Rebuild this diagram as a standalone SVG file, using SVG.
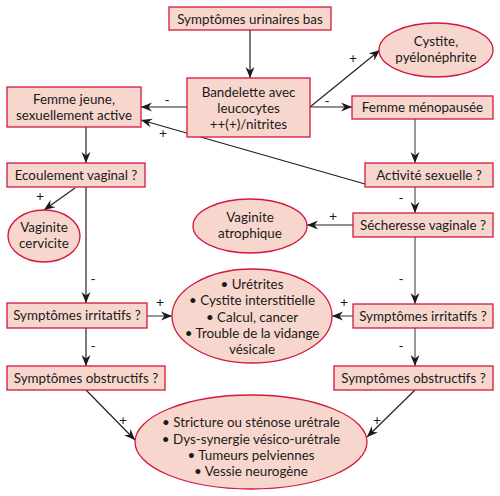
<svg xmlns="http://www.w3.org/2000/svg" width="500" height="496" viewBox="0 0 500 496">
<defs>
<marker id="ah" markerUnits="userSpaceOnUse" markerWidth="12" markerHeight="10" refX="11" refY="5" orient="auto">
<path d="M0,0.5 L11,5 L0,9.5 L3.5,5 z" fill="#1a1a1a"/>
</marker>
<style>
.n rect, .n ellipse { fill:#f7d7cd; stroke:#d3173f; stroke-width:1.3; }
text { font-family:"Lato","Open Sans","Liberation Sans",sans-serif; font-size:13.4px; fill:#1a1a1a; text-anchor:middle; }
.c line { stroke:#222; stroke-width:1.2; fill:none; marker-end:url(#ah); }
.c line.g { stroke:#8c8c8c; stroke-width:1.8; }
#edge-labels text { font-size:14px; }
</style>
</defs>
<rect width="500" height="496" fill="#ffffff"/>

<g class="c" id="connectors">
<line x1="250" y1="30" x2="250" y2="78"/>
<line x1="187" y1="107" x2="141" y2="107"/>
<line x1="310" y1="107" x2="352" y2="107"/>
<line x1="310" y1="107" x2="380" y2="50"/>
<line x1="365" y1="184" x2="141" y2="120"/>
<line class="g" x1="415" y1="119" x2="415" y2="163"/>
<line class="g" x1="415" y1="187" x2="415" y2="213"/>
<line x1="353" y1="225" x2="307" y2="225"/>
<line class="g" x1="415" y1="237" x2="415" y2="304"/>
<line class="g" x1="353" y1="316" x2="332" y2="316"/>
<line class="g" x1="415" y1="328" x2="415" y2="366"/>
<line x1="415" y1="390" x2="367" y2="437"/>
<line x1="86" y1="127" x2="86" y2="163"/>
<line x1="75" y1="188" x2="44" y2="210"/>
<line x1="86" y1="187" x2="86" y2="303"/>
<line class="g" x1="147" y1="316" x2="172" y2="316"/>
<line x1="86" y1="328" x2="86" y2="366"/>
<line x1="86" y1="390" x2="135" y2="440"/>
</g>

<g id="edge-labels">
<text x="167" y="105">-</text>
<text x="327" y="106">-</text>
<text x="353" y="63">+</text>
<text x="163" y="138">+</text>
<text x="401" y="203">-</text>
<text x="333" y="221">+</text>
<text x="401" y="284">-</text>
<text x="344" y="307">+</text>
<text x="401" y="351">-</text>
<text x="377" y="425">+</text>
<text x="40" y="201">+</text>
<text x="93" y="284">-</text>
<text x="160" y="307">+</text>
<text x="93" y="351">-</text>
<text x="123" y="425">+</text>
</g>

<g class="n" id="n-symptomes">
<rect x="169" y="7" width="162" height="23"/>
<text x="250" y="23.5">Symptômes urinaires bas</text>
</g>
<g class="n" id="n-bandelette">
<rect x="187" y="78" width="123" height="59"/>
<text x="248.5" y="97">Bandelette avec</text>
<text x="248.5" y="113">leucocytes</text>
<text x="248.5" y="129">++(+)/nitrites</text>
</g>
<g class="n" id="n-femme-jeune">
<rect x="7" y="87" width="134" height="40"/>
<text x="74" y="104">Femme jeune,</text>
<text x="74" y="120">sexuellement active</text>
</g>
<g class="n" id="n-cystite">
<ellipse cx="436" cy="50" rx="57" ry="27"/>
<text x="436" y="46">Cystite,</text>
<text x="436" y="62">pyélonéphrite</text>
</g>
<g class="n" id="n-menopausee">
<rect x="352" y="96" width="141" height="23"/>
<text x="422.5" y="112">Femme ménopausée</text>
</g>
<g class="n" id="n-activite">
<rect x="365" y="163" width="128" height="24"/>
<text x="429" y="180">Activité sexuelle ?</text>
</g>
<g class="n" id="n-secheresse">
<rect x="353" y="213" width="140" height="24"/>
<text x="423" y="230">Sécheresse vaginale ?</text>
</g>
<g class="n" id="n-vaginite-atro">
<ellipse cx="250" cy="226" rx="57" ry="27"/>
<text x="250" y="222">Vaginite</text>
<text x="250" y="238">atrophique</text>
</g>
<g class="n" id="n-ecoulement">
<rect x="7" y="163" width="138" height="24"/>
<text x="76" y="180">Ecoulement vaginal ?</text>
</g>
<g class="n" id="n-vaginite-cerv">
<ellipse cx="44" cy="236" rx="36" ry="26"/>
<text x="44" y="232">Vaginite</text>
<text x="44" y="248">cervicite</text>
</g>
<g class="n" id="n-irrit-g">
<rect x="7" y="303" width="140" height="25"/>
<text x="77" y="320">Symptômes irritatifs ?</text>
</g>
<g class="n" id="n-causes-irrit">
<ellipse cx="252" cy="316" rx="80" ry="47"/>
<text x="252" y="289">• Urétrites</text>
<text x="252" y="305">• Cystite interstitielle</text>
<text x="252" y="322">• Calcul, cancer</text>
<text x="252" y="338">• Trouble de la vidange</text>
<text x="252" y="354">vésicale</text>
</g>
<g class="n" id="n-irrit-d">
<rect x="353" y="304" width="140" height="24"/>
<text x="423" y="321">Symptômes irritatifs ?</text>
</g>
<g class="n" id="n-obst-g">
<rect x="7" y="366" width="158" height="24"/>
<text x="86" y="383">Symptômes obstructifs ?</text>
</g>
<g class="n" id="n-obst-d">
<rect x="334" y="366" width="159" height="24"/>
<text x="413.5" y="383">Symptômes obstructifs ?</text>
</g>
<g class="n" id="n-causes-obst">
<ellipse cx="251" cy="442" rx="116" ry="47"/>
<text x="251" y="427">• Stricture ou sténose urétrale</text>
<text x="251" y="444">• Dys-synergie vésico-urétrale</text>
<text x="251" y="460">• Tumeurs pelviennes</text>
<text x="251" y="476">• Vessie neurogène</text>
</g>
</svg>
